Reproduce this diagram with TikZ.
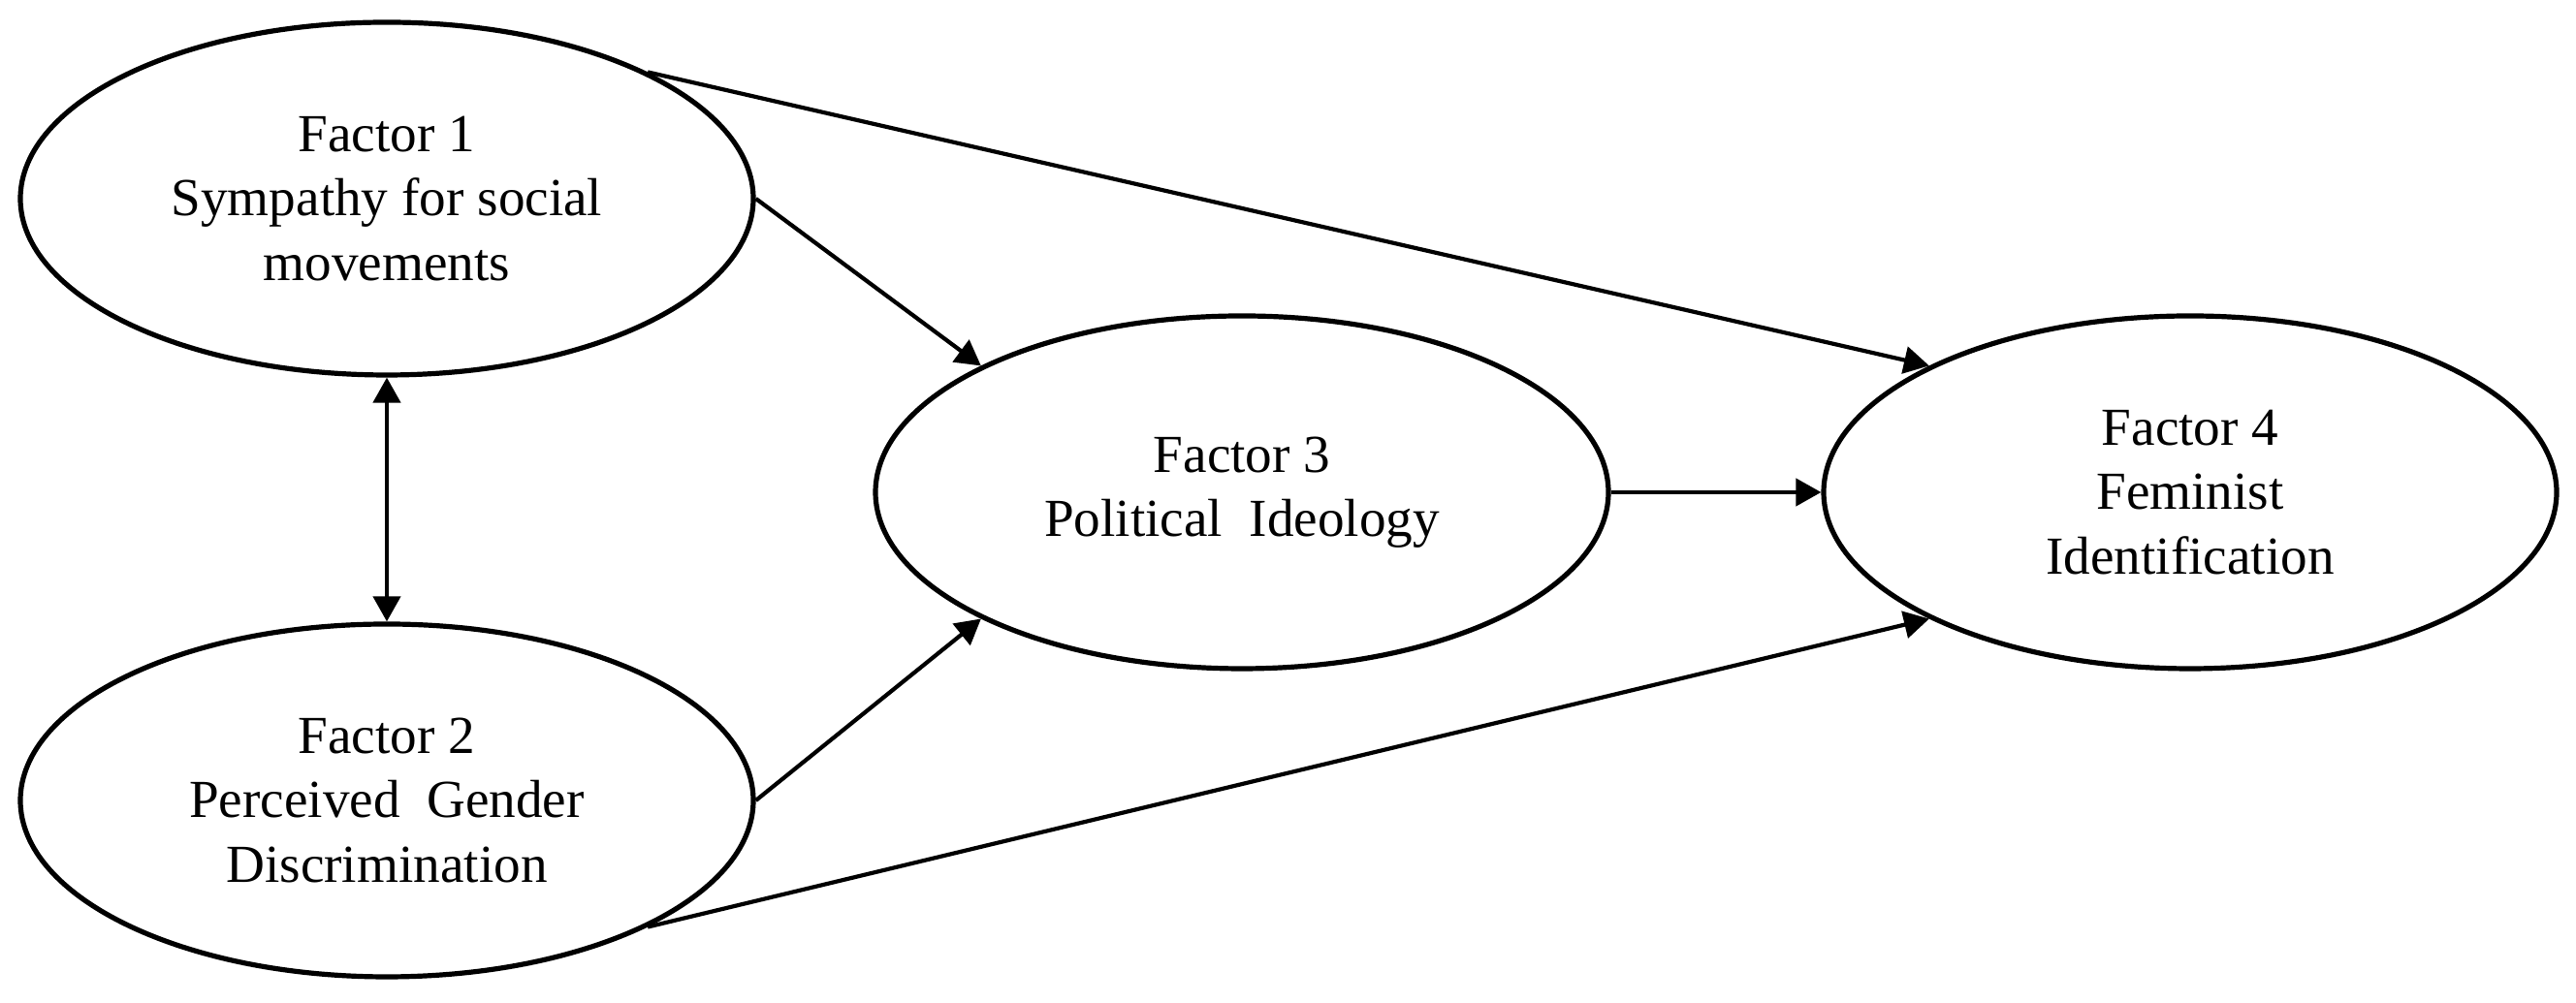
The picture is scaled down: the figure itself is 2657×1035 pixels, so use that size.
\documentclass[tikz,border=0pt]{standalone}
\usepackage{fontspec}
\setmainfont{Liberation Serif}
\usetikzlibrary{arrows.meta,shapes.geometric}

\begin{document}
\begin{tikzpicture}[
  x=0.25pt, y=0.25pt,
  font=\fontsize{13.8}{16.6}\selectfont,
  factor/.style={draw, ellipse, line width=1.3pt, align=center, inner sep=0pt,
    minimum width=189pt, minimum height=91pt},
  arrow/.style={-{Triangle[length=6.5pt,width=7pt]}, line width=1.05pt},
  twoway/.style={{Triangle[length=6.5pt,width=7pt]}-{Triangle[length=6.5pt,width=7pt]}, line width=1.05pt}
]
\useasboundingbox (0,0) rectangle (2657,1035);

\node[factor] (f1) at (399,830) {Factor 1\\Sympathy for social\\movements};
\node[factor] (f2) at (399,209) {Factor 2\\Perceived\ \ Gender\\Discrimination};
\node[factor] (f3) at (1281,527) {Factor 3\\Political\ \ Ideology};
\node[factor] (f4) at (2259,527) {Factor 4\\Feminist\\Identification};

\draw[twoway] (f1.south) -- (f2.north);
\draw[arrow] (f1.east) -- (f3.north west);
\draw[arrow] (f2.east) -- (f3.south west);
\draw[arrow] (f1.north east) -- (f4.north west);
\draw[arrow] (f2.south east) -- (f4.south west);
\draw[arrow] (f3.east) -- (f4.west);

\end{tikzpicture}
\end{document}
